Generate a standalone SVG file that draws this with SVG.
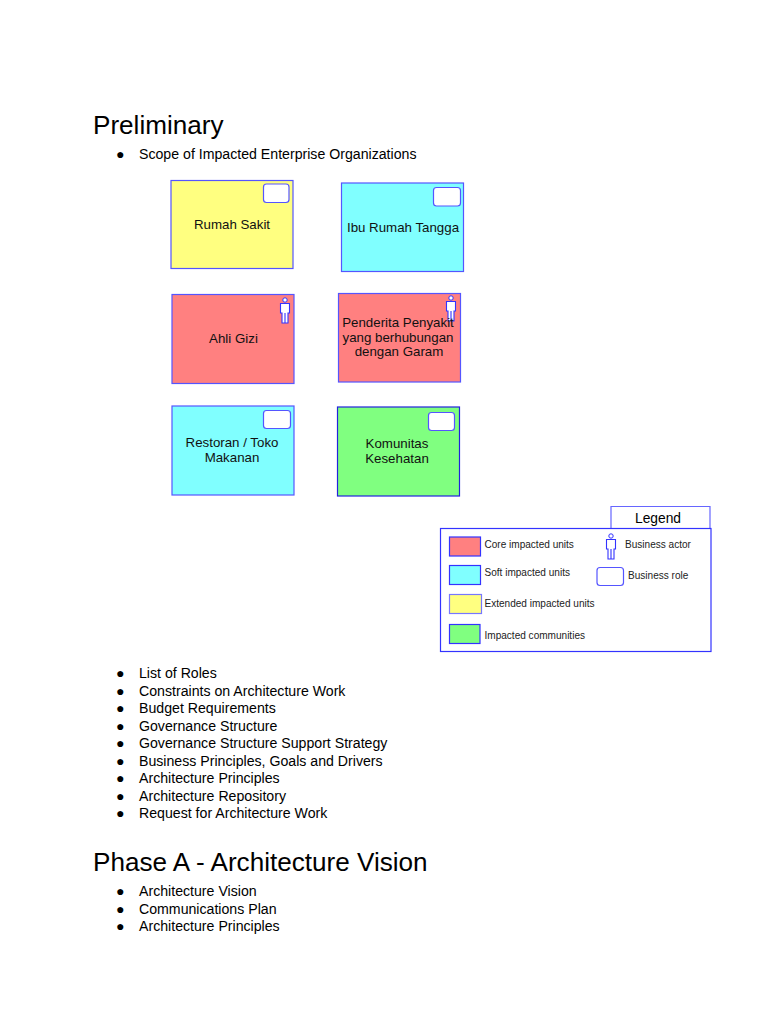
<svg xmlns="http://www.w3.org/2000/svg" width="768" height="1024" viewBox="0 0 768 1024">
<defs>
<g id="actor"><circle cx="0" cy="2" r="2.2" fill="#fff" stroke="#33f" stroke-width="1"/><path d="M-4.500 5.500H4.500V15H3V25H-3V15H-4.500ZM0 15V25" fill="#fff" stroke="#33f" stroke-width="1.100"/></g>
</defs>
<style>
text{font-family:"Liberation Sans",Arial,sans-serif;fill:#000}
.h{font-size:26.1px}
.b{font-size:14.15px}
.n{font-size:13.3px;fill:#111;text-anchor:middle}
.l{font-size:10.05px;fill:#222}
.box{stroke:#55f;stroke-width:1.200}
.role{fill:#fff;stroke:#55f;stroke-width:1.200}
.sw{stroke:#33f;stroke-width:1.200}
</style>
<rect width="768" height="1024" fill="#fff"/>
<text class="h" x="93" y="134">Preliminary</text>
<g id="bullets-1">
<text class="b" x="116" y="159">●</text><text class="b" x="139" y="159">Scope of Impacted Enterprise Organizations</text>
</g>
<g id="n1"><rect class="box" x="171" y="180.500" width="122" height="88" fill="#ffff80"/><rect class="role" x="263.500" y="184" width="25.500" height="18.500" rx="3"/><text class="n" x="232" y="229">Rumah Sakit</text></g>
<g id="n2"><rect class="box" x="341.500" y="183" width="122" height="88.500" fill="#80ffff"/><rect class="role" x="433.500" y="187.500" width="27" height="18.500" rx="3"/><text class="n" x="403" y="231.500">Ibu Rumah Tangga</text></g>
<g id="n3"><rect class="box" x="172" y="294.500" width="122" height="89" fill="#ff8080"/><use href="#actor" x="285" y="298"/><text class="n" x="233.500" y="343">Ahli Gizi</text></g>
<g id="n4"><rect class="box" x="338.500" y="293.500" width="122" height="88.500" fill="#ff8080"/><use href="#actor" x="451" y="296"/><text class="n" x="398" y="327">Penderita Penyakit</text><text class="n" x="398" y="342">yang berhubungan</text><text class="n" x="399" y="356">dengan Garam</text></g>
<g id="n5"><rect class="box" x="172" y="406" width="122" height="89" fill="#80ffff"/><rect class="role" x="263.500" y="410.500" width="27" height="18" rx="3"/><text class="n" x="232" y="446.500">Restoran / Toko</text><text class="n" x="232" y="461.500">Makanan</text></g>
<g id="n6"><rect x="337.500" y="407" width="122" height="89" fill="#80ff80" stroke="#22d" stroke-width="1.200"/><rect class="role" x="428.500" y="412.500" width="26" height="18" rx="3"/><text class="n" x="397" y="448">Komunitas</text><text class="n" x="397" y="463">Kesehatan</text></g>
<g id="legend">
<path d="M611 528V506.500H710V528" fill="#fff" stroke="#66f" stroke-width="1.200"/>
<text x="658" y="523" font-size="13.800" text-anchor="middle" fill="#111">Legend</text>
<rect x="440.500" y="528.500" width="270.500" height="123" fill="#fff" stroke="#33f" stroke-width="1.200"/>
<rect class="sw" x="449.500" y="537" width="31" height="19" fill="#ff8080"/>
<rect class="sw" x="449.500" y="565.500" width="31" height="19" fill="#80ffff"/>
<rect x="449.500" y="594.500" width="32" height="19" fill="#ffff80" stroke="#77f" stroke-width="1.200"/>
<rect class="sw" x="449.500" y="624.500" width="30.500" height="19" fill="#80ff80"/>
<text class="l" x="484.500" y="548">Core impacted units</text>
<text class="l" x="484.500" y="576">Soft impacted units</text>
<text class="l" x="484.500" y="607">Extended impacted units</text>
<text class="l" x="484.500" y="638.500">Impacted communities</text>
<use href="#actor" x="611" y="534"/>
<rect class="role" x="597" y="567.500" width="26.500" height="18" rx="3"/>
<text class="l" x="625" y="548">Business actor</text>
<text class="l" x="628" y="579">Business role</text>
</g>
<g id="bullets-2">
<text class="b" x="116" y="678">●</text><text class="b" x="139" y="678">List of Roles</text>
<text class="b" x="116" y="696">●</text><text class="b" x="139" y="696">Constraints on Architecture Work</text>
<text class="b" x="116" y="713">●</text><text class="b" x="139" y="713">Budget Requirements</text>
<text class="b" x="116" y="731">●</text><text class="b" x="139" y="731">Governance Structure</text>
<text class="b" x="116" y="748">●</text><text class="b" x="139" y="748">Governance Structure Support Strategy</text>
<text class="b" x="116" y="766">●</text><text class="b" x="139" y="766">Business Principles, Goals and Drivers</text>
<text class="b" x="116" y="783">●</text><text class="b" x="139" y="783">Architecture Principles</text>
<text class="b" x="116" y="801">●</text><text class="b" x="139" y="801">Architecture Repository</text>
<text class="b" x="116" y="818">●</text><text class="b" x="139" y="818">Request for Architecture Work</text>
</g>
<text class="h" x="93" y="871">Phase A - Architecture Vision</text>
<g id="bullets-3">
<text class="b" x="116" y="896">●</text><text class="b" x="139" y="896">Architecture Vision</text>
<text class="b" x="116" y="913.500">●</text><text class="b" x="139" y="913.500">Communications Plan</text>
<text class="b" x="116" y="931">●</text><text class="b" x="139" y="931">Architecture Principles</text>
</g>
</svg>
